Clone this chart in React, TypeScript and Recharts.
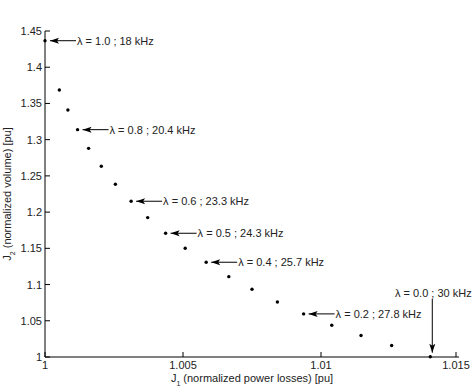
import { ScatterChart, Scatter, XAxis, YAxis } from "recharts";

// Pareto front
const J1 = [
  1.0, 1.00052, 1.00083, 1.00118, 1.00158, 1.00204, 1.00255, 1.00312, 1.00372, 1.00437,
  1.00508, 1.00584, 1.00666, 1.0075, 1.00842, 1.00937, 1.01039, 1.01145, 1.01256, 1.01396,
];
const J2 = [
  1.4366, 1.3686, 1.341, 1.3138, 1.288, 1.2633, 1.2384, 1.215, 1.1924, 1.1708,
  1.1501, 1.1308, 1.1109, 1.0935, 1.076, 1.0595, 1.0439, 1.0297, 1.0159, 1.0004,
];
const LABELLED_POINTS = [0, 3, 7, 9, 11, 15, 19];
const LAMBDA = ["1.0", "0.8", "0.6", "0.5", "0.4", "0.2", "0.0"];
const FREQ_KHZ = ["18", "20.4", "23.3", "24.3", "25.7", "27.8", "30"];

const X_TICKS = [1, 1.005, 1.01, 1.015];
const Y_TICKS = [1, 1.05, 1.1, 1.15, 1.2, 1.25, 1.3, 1.35, 1.4, 1.45];

const FONT = "'Liberation Sans', Arial, sans-serif";
const TXT = "#222";

const data = J1.map((x, i) => {
  const k = LABELLED_POINTS.indexOf(i);
  return {
    x,
    y: J2[i],
    label: k >= 0 ? `λ = ${LAMBDA[k]} ; ${FREQ_KHZ[k]} kHz` : null,
    down: i === J1.length - 1,
  };
});

const fmt = (v: number) => String(+v.toFixed(3));

function Point(props: any) {
  const { cx, cy, payload } = props;
  const label = payload?.label;
  let ann = null;
  if (label && payload.down) {
    const ax = cx + 2, tip = cy - 4;
    ann = (
      <g>
        <line x1={ax} y1={cy - 58} x2={ax} y2={tip} stroke="#000" strokeWidth={1} />
        <polygon points={`${ax},${tip} ${ax - 3},${tip - 9} ${ax},${tip - 7} ${ax + 3},${tip - 9}`} fill="#000" />
        <text x={cx + 3} y={cy - 60} textAnchor="middle" fontSize={11} fill={TXT} fontFamily={FONT}>{label}</text>
      </g>
    );
  } else if (label) {
    const tip = cx + 5;
    ann = (
      <g>
        <line x1={tip} y1={cy} x2={cx + 31} y2={cy} stroke="#000" strokeWidth={1} />
        <polygon points={`${tip},${cy} ${tip + 9},${cy - 3} ${tip + 7},${cy} ${tip + 9},${cy + 3}`} fill="#000" />
        <text x={cx + 32} y={cy + 4} fontSize={11} fill={TXT} fontFamily={FONT}>{label}</text>
      </g>
    );
  }
  return (
    <g>
      <circle cx={cx} cy={cy} r={1.7} fill="#000" />
      {ann}
    </g>
  );
}

const BottomTick = ({ x, y, payload }: any) => (
  <g>
    <line x1={x} y1={y} x2={x} y2={y - 5} stroke="#000" />
    <text x={x} y={y + 12} textAnchor="middle" fontSize={11} fill={TXT} fontFamily={FONT}>{fmt(payload.value)}</text>
  </g>
);
const TopTick = ({ x, y }: any) => <line x1={x} y1={y} x2={x} y2={y + 5} stroke="#000" />;
const LeftTick = ({ x, y, payload }: any) => (
  <g>
    <line x1={x} y1={y} x2={x + 5} y2={y} stroke="#000" />
    <text x={x - 3} y={y + 4} textAnchor="end" fontSize={11} fill={TXT} fontFamily={FONT}>{fmt(payload.value)}</text>
  </g>
);
const RightTick = ({ x, y }: any) => <line x1={x} y1={y} x2={x - 5} y2={y} stroke="#000" />;

const XLabel = ({ viewBox }: any) => (
  <text x={viewBox.x + viewBox.width / 2} y={viewBox.y + 25} textAnchor="middle" fontSize={11} fill={TXT} fontFamily={FONT}>
    J<tspan fontSize={7} dy={4}>1</tspan><tspan dy={-4}> (normalized power losses) [pu]</tspan>
  </text>
);
const YLabel = ({ viewBox }: any) => {
  const cx = 11, cy = viewBox.y + viewBox.height / 2;
  return (
    <text x={cx} y={cy} transform={`rotate(-90 ${cx} ${cy})`} textAnchor="middle" fontSize={11} fill={TXT} fontFamily={FONT}>
      J<tspan fontSize={7} dy={4}>2</tspan><tspan dy={-4}> (normalized volume) [pu]</tspan>
    </text>
  );
};

export default function App() {
  return (
    <div style={{ position: "absolute", left: 0, top: 0, width: 474, height: 388, background: "#fff" }}>
      <ScatterChart width={474} height={388} margin={{ top: 31, right: 15, bottom: 0, left: 0 }}>
        <XAxis xAxisId="b" type="number" dataKey="x" domain={[1, 1.015]} ticks={X_TICKS}
          height={31} tickSize={0} tickMargin={0} tickLine={false} tick={<BottomTick />}
          axisLine={{ stroke: "#000" }} label={<XLabel />} />
        <XAxis xAxisId="t" orientation="top" type="number" dataKey="x" domain={[1, 1.015]} ticks={X_TICKS}
          height={0} tickSize={0} tickMargin={0} tickLine={false} tick={<TopTick />} axisLine={{ stroke: "#000" }} />
        <YAxis yAxisId="l" type="number" dataKey="y" domain={[1, 1.45]} ticks={Y_TICKS}
          width={45} tickSize={0} tickMargin={0} tickLine={false} tick={<LeftTick />}
          axisLine={{ stroke: "#000" }} label={<YLabel />} />
        <YAxis yAxisId="r" orientation="right" type="number" dataKey="y" domain={[1, 1.45]} ticks={Y_TICKS}
          width={0} tickSize={0} tickMargin={0} tickLine={false} tick={<RightTick />} axisLine={{ stroke: "#000" }} />
        <Scatter data={data} xAxisId="b" yAxisId="l" shape={<Point />} isAnimationActive={false} />
        <Scatter data={data} xAxisId="t" yAxisId="r" shape={() => null} isAnimationActive={false} />
      </ScatterChart>
    </div>
  );
}
